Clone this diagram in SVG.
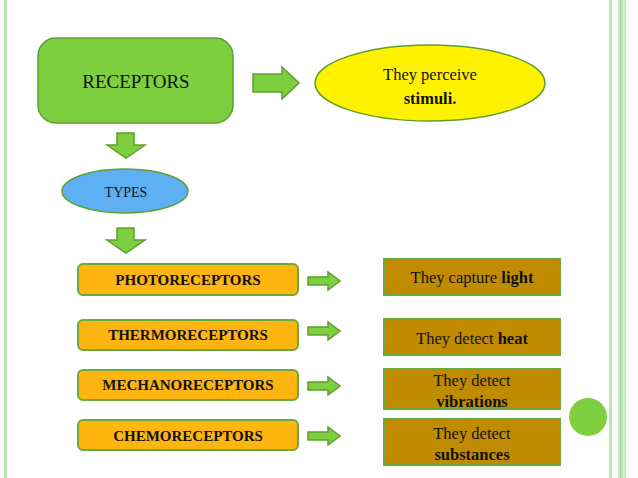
<svg xmlns="http://www.w3.org/2000/svg" width="638" height="478" viewBox="0 0 638 478">
<defs><style>
text{font-family:"Liberation Serif","DejaVu Serif",serif;fill:#111}
.arr{fill:#7DCF3F;stroke:#5E9E2E;stroke-width:1.5}
.org{fill:#FFB50F;stroke:#6AAA3A;stroke-width:2}
.brn{fill:#C18B00;stroke:#6AAA3A;stroke-width:2}
.ot{font-size:15px;font-weight:bold;text-anchor:middle}
.bt{font-size:16.5px;text-anchor:middle}
</style></defs>
<rect width="638" height="478" fill="#fff"/>
<rect x="4" y="0" width="3" height="478" fill="#BFE3B5"/>
<rect x="609" y="0" width="3" height="478" fill="#BFE3B5"/>
<rect x="618" y="0" width="8" height="478" fill="#CDEBC4"/>
<rect x="620" y="0" width="1.5" height="478" fill="#A8D89C"/>
<circle cx="588" cy="417" r="19" fill="#7DCF3F"/>
<g id="connectors">
<path class="arr" d="M253,74 H282 V67 L299,83 L282,99 V92 H253 Z"/>
<path class="arr" d="M117,133 H134 V145 H145 L126,158 L107,145 H117 Z"/>
<path class="arr" d="M117,228 H134 V240 H145 L126,253 L107,240 H117 Z"/>
<path class="arr" d="M308,277 H328 V272 L340,281 L328,290 V285 H308 Z"/>
<path class="arr" d="M308,327 H328 V322 L340,331 L328,340 V335 H308 Z"/>
<path class="arr" d="M308,382 H328 V377 L340,386 L328,395 V390 H308 Z"/>
<path class="arr" d="M308,432 H328 V427 L340,436 L328,445 V440 H308 Z"/>
</g>
<g id="receptors"><rect x="38" y="38" width="195" height="85" rx="18" fill="#7DCF3F" stroke="#5E9E2E" stroke-width="1.5"/><text x="136" y="88" font-size="19" text-anchor="middle">RECEPTORS</text></g>
<g id="stimuli"><ellipse cx="430" cy="83" rx="115" ry="38" fill="#FFF200" stroke="#5E9E2E" stroke-width="1.5"/><text x="430" y="80" class="bt">They perceive</text><text x="430" y="104" class="bt" font-weight="bold">stimuli.</text></g>
<g id="types"><ellipse cx="125" cy="191" rx="63" ry="22" fill="#5EB0F5" stroke="#5E9E2E" stroke-width="1.5"/><text x="126" y="197" font-size="14" text-anchor="middle">TYPES</text></g>
<g id="photo"><rect class="org" x="78" y="264" width="220" height="31" rx="5"/><text class="ot" x="188" y="285">PHOTORECEPTORS</text></g>
<g id="thermo"><rect class="org" x="78" y="320" width="220" height="30" rx="5"/><text class="ot" x="188" y="340">THERMORECEPTORS</text></g>
<g id="mechano"><rect class="org" x="78" y="370" width="220" height="30" rx="5"/><text class="ot" x="188" y="390">MECHANORECEPTORS</text></g>
<g id="chemo"><rect class="org" x="78" y="420" width="220" height="30" rx="5"/><text class="ot" x="188" y="441">CHEMORECEPTORS</text></g>
<g id="light"><rect class="brn" x="384" y="259" width="176" height="36"/><text class="bt" x="472" y="283">They capture <tspan font-weight="bold">light</tspan></text></g>
<g id="heat"><rect class="brn" x="384" y="319" width="176" height="36"/><text class="bt" x="472" y="344">They detect <tspan font-weight="bold">heat</tspan></text></g>
<g id="vibrations"><rect class="brn" x="384" y="369" width="176" height="40"/><text class="bt" x="472" y="386">They detect</text><text class="bt" x="472" y="407" font-weight="bold">vibrations</text></g>
<g id="substances"><rect class="brn" x="384" y="419" width="176" height="46"/><text class="bt" x="472" y="439">They detect</text><text class="bt" x="472" y="460" font-weight="bold">substances</text></g>
</svg>
